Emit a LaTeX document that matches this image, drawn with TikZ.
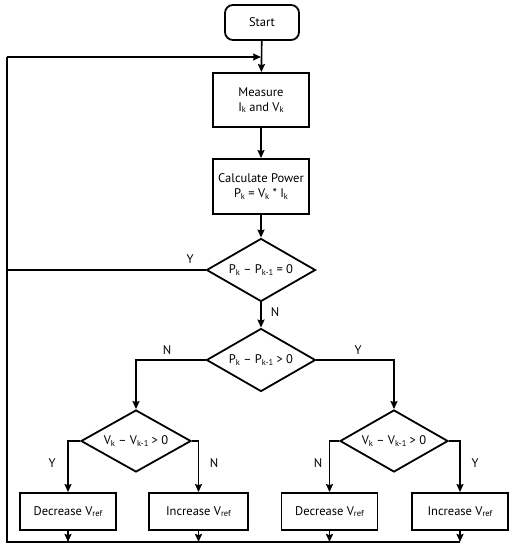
\documentclass[tikz,border=0pt]{standalone}
\usepackage{fontspec}
\setmainfont{PT Sans}
\usetikzlibrary{shapes.geometric,arrows.meta}
\newcommand{\sbs}[1]{\raisebox{-0.2ex}{\fontsize{8.5}{9}\selectfont #1}}
\begin{document}
\begin{tikzpicture}[x=1pt,y=-1pt,
  font=\fontsize{12.5}{15}\selectfont,
  line width=1.6pt,
  arr/.style={-{Stealth[length=8pt,width=7pt,inset=1pt]}},
  proc/.style={draw,rectangle,align=center,inner sep=2pt,line width=1.8pt},
  dec/.style={draw,diamond,aspect=1.7,inner sep=0pt,line width=1.8pt},
  lbl/.style={inner sep=0pt}]
\useasboundingbox (0,0) rectangle (515,550);

\node[proc,rounded corners=8pt,minimum width=74pt,minimum height=35pt] (start) at (262,22.5) {Start};
\node[proc,minimum width=96pt,minimum height=54pt] (meas) at (261,100) {Measure\\I\sbs{k} and V\sbs{k}};
\node[proc,minimum width=96pt,minimum height=55pt] (calc) at (261,186.5) {Calculate Power\\P\sbs{k} = V\sbs{k} * I\sbs{k}};
\node[dec,minimum width=109pt,minimum height=63pt] (d1) at (261,270) {P\sbs{k} – P\sbs{k-1} = 0};
\node[dec,minimum width=109pt,minimum height=63pt] (d2) at (261,360) {P\sbs{k} – P\sbs{k-1} > 0};
\node[dec,minimum width=110pt,minimum height=62pt] (d3) at (136,441) {V\sbs{k} – V\sbs{k-1} > 0};
\node[dec,minimum width=108pt,minimum height=62pt] (d4) at (394,441) {V\sbs{k} – V\sbs{k-1} > 0};
\node[proc,minimum width=96pt,minimum height=37pt] (b1) at (68,511.5) {Decrease V\sbs{ref}};
\node[proc,minimum width=99pt,minimum height=37pt] (b2) at (198.5,511.5) {Increase V\sbs{ref}};
\node[proc,minimum width=96pt,minimum height=37pt] (b3) at (329.5,511.5) {Decrease V\sbs{ref}};
\node[proc,minimum width=96pt,minimum height=37pt] (b4) at (460,511.5) {Increase V\sbs{ref}};

\coordinate (bl) at (7,542);
\coordinate (tl) at (7,57);
\coordinate (br) at (b4.south |- bl);

\draw[arr] (start) -- (meas);
\draw[arr] (meas) -- (calc);
\draw[arr] (calc) -- (d1);
\draw[arr] (d1) -- (d2);
\draw (d1.west) -- (d1.west -| bl);
\draw[arr] (d2.west) -| (d3.north);
\draw[arr] (d2.east) -| (d4.north);
\draw[arr] (d3.west) -| (b1.north);
\draw[arr] (d3.east) -| (b2.north);
\draw[arr] (d4.west) -| (b3.north);
\draw[arr] (d4.east) -| (b4.north);
\draw (br) -- (bl) -- (tl);
\draw[arr] (tl) -- (tl -| meas.north);
\draw[arr] (b1.south) -- (b1.south |- bl);
\draw[arr] (b2.south) -- (b2.south |- bl);
\draw[arr] (b3.south) -- (b3.south |- bl);
\draw[arr] (b4.south) -- (br);

\node[lbl] (ly1) at (190,259) {Y};
\node[lbl] (ln1) at (275,312) {N};
\node[lbl] (ln2) at (167,350) {N};
\node[lbl] (ly2) at (358,350) {Y};
\node[lbl] (ly3) at (52,463) {Y};
\node[lbl] (ln3) at (214,463) {N};
\node[lbl] (ln4) at (318,463) {N};
\node[lbl] (ly4) at (475,463) {Y};
\end{tikzpicture}
\end{document}
